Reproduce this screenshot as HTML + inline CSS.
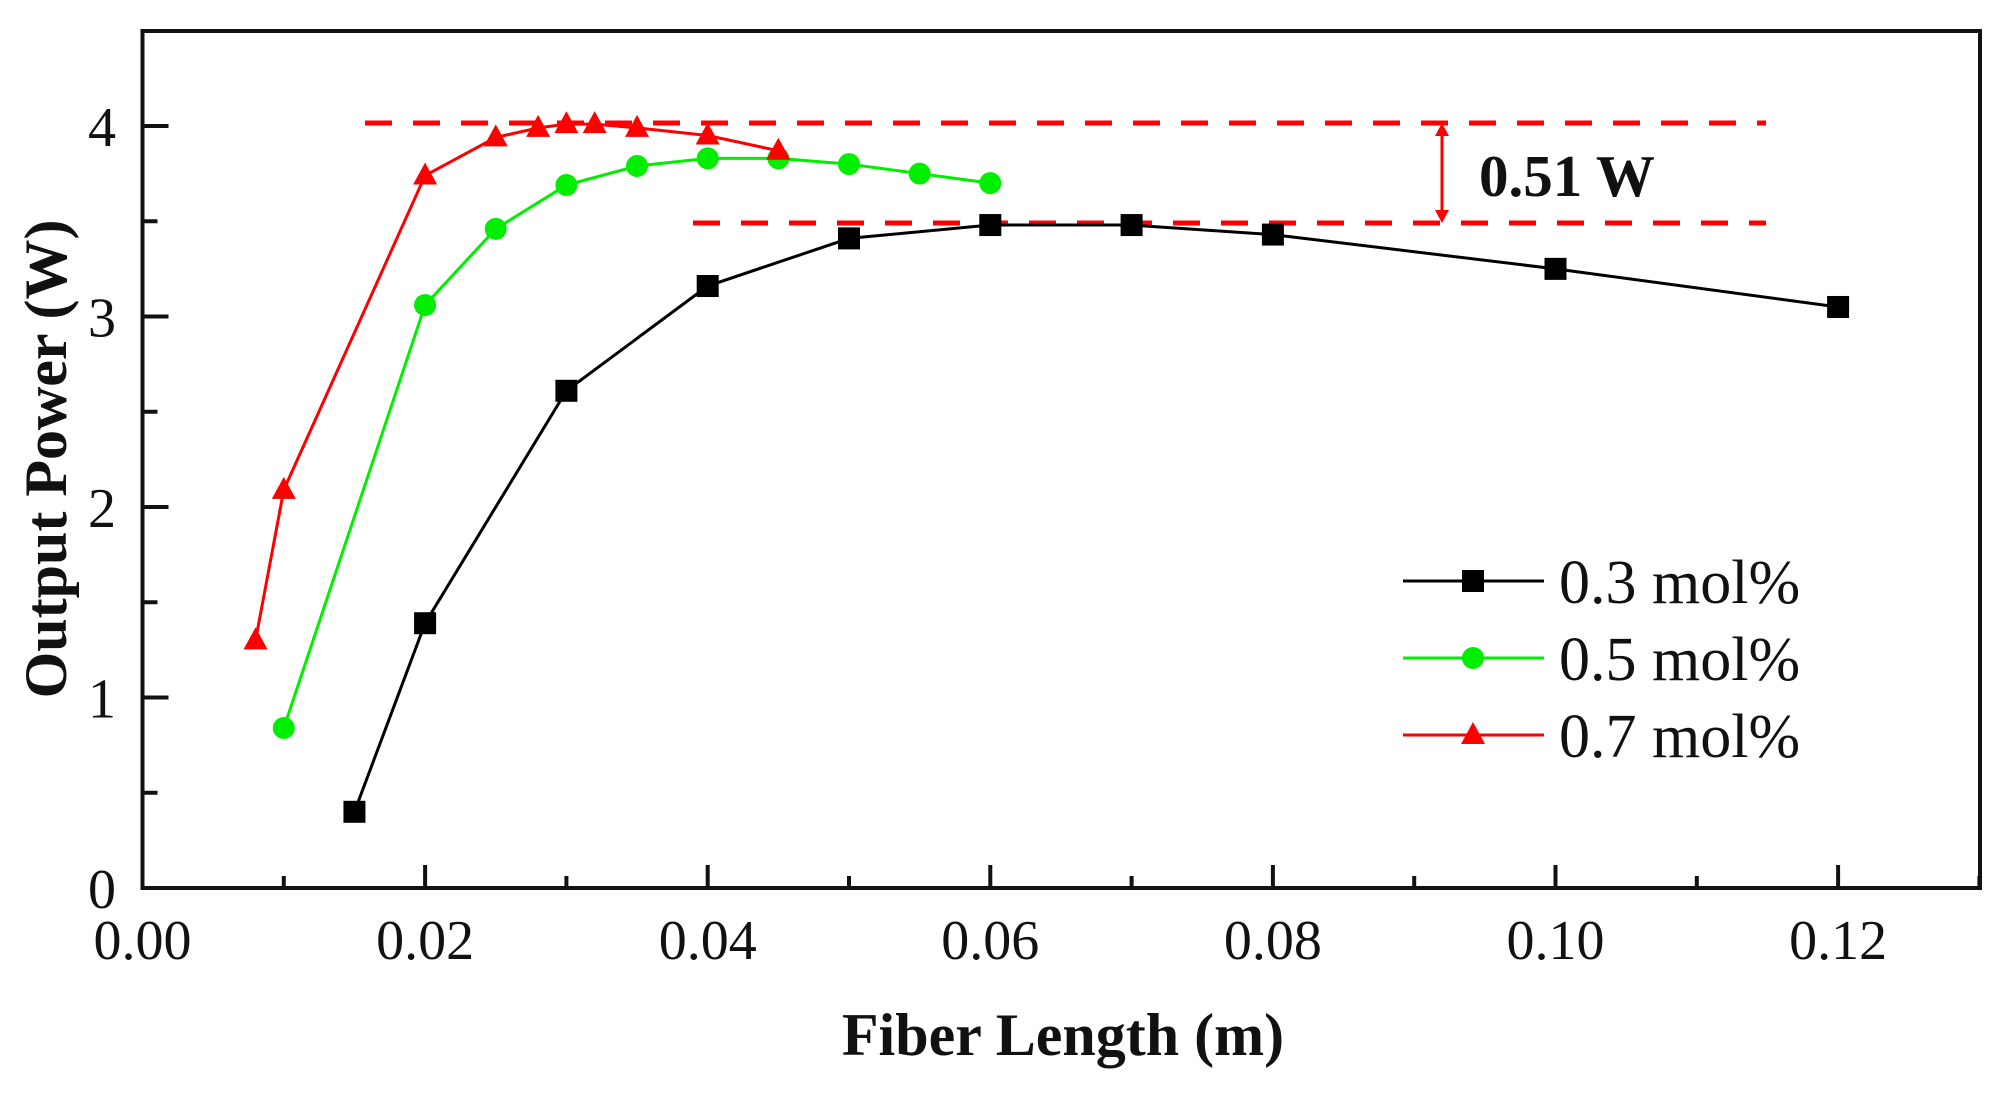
<!DOCTYPE html>
<html><head><meta charset="utf-8"><style>
html,body{margin:0;padding:0;background:#fff;}
svg{display:block;}
text{font-family:"Liberation Serif",serif;fill:#111;}
</style></head><body>
<svg id="s" width="2012" height="1100" viewBox="0 0 2012 1100" xmlns="http://www.w3.org/2000/svg">
<rect x="0" y="0" width="2012" height="1100" fill="#fff"/>
<g id="g"></g>
</svg>
<script>
const X0=142.5,XS=14130,Y0=888,YS=190.5;
const px=x=>X0+x*XS, py=y=>Y0-y*YS;
let h='';
h+=`<line x1="365" y1="123" x2="1766" y2="123" stroke="#f00" stroke-width="5" stroke-dasharray="27 21"/>`;
h+=`<line x1="693" y1="223" x2="1766" y2="223" stroke="#f00" stroke-width="5" stroke-dasharray="27 21"/>`;
h+=`<line x1="1442" y1="132" x2="1442" y2="214" stroke="#f00" stroke-width="3"/>`;
h+=`<polygon points="1442,123 1435,136 1449,136" fill="#f00"/><polygon points="1442,223 1435,210 1449,210" fill="#f00"/>`;
h+=`<text x="1479" y="196" font-size="59" font-weight="bold">0.51 W</text>`;
const B=[[.015,.4],[.02,1.39],[.03,2.61],[.04,3.16],[.05,3.41],[.06,3.48],[.07,3.48],[.08,3.43],[.10,3.25],[.12,3.05]];
const G=[[.01,.84],[.02,3.06],[.025,3.46],[.03,3.69],[.035,3.79],[.04,3.83],[.045,3.83],[.05,3.80],[.055,3.75],[.06,3.70]];
const R=[[.008,1.30],[.01,2.09],[.02,3.74],[.025,3.94],[.028,3.99],[.03,4.01],[.032,4.01],[.035,3.99],[.04,3.95],[.045,3.87]];
const sq=(x,y)=>`<rect x="${x-11}" y="${y-11}" width="22" height="22" fill="#000"/>`;
const ci=(x,y)=>`<circle cx="${x}" cy="${y}" r="11" fill="#0e0"/>`;
const tr=(x,y)=>`<polygon points="${x},${y-13} ${x-12},${y+9} ${x+12},${y+9}" fill="#f00"/>`;
function ser(d,c,m){h+=`<polyline fill="none" stroke="${c}" stroke-width="3" points="${d.map(p=>px(p[0])+','+py(p[1])).join(' ')}"/>`;d.forEach(p=>h+=m(px(p[0]),py(p[1])));}
ser(B,'#000',sq);ser(G,'#0e0',ci);ser(R,'#f00',tr);
h+=`<rect x="142.5" y="31" width="1837.5" height="857" fill="none" stroke="#111" stroke-width="4"/>`;
for(let i=1;i<=13;i++){const x=X0+i*141.3;const maj=i%2==0;h+=`<line x1="${x}" y1="888" x2="${x}" y2="${888-(maj?23:12)}" stroke="#111" stroke-width="4"/>`;}
['0.00','0.02','0.04','0.06','0.08','0.10','0.12'].forEach((t,i)=>h+=`<text x="${X0+i*282.6}" y="959" font-size="56" text-anchor="middle">${t}</text>`);
for(let i=1;i<=8;i++){const y=Y0-i*YS/2;const maj=i%2==0;h+=`<line x1="142.5" y1="${y}" x2="${142.5+(maj?26:15)}" y2="${y}" stroke="#111" stroke-width="4"/>`;}
for(let i=0;i<=4;i++)h+=`<text x="116" y="${Y0-i*YS+20}" font-size="56" text-anchor="end">${i}</text>`;
h+=`<text transform="translate(66,459) rotate(-90)" font-size="60" font-weight="bold" text-anchor="middle">Output Power (W)</text>`;
h+=`<text x="1063" y="1055" font-size="60" font-weight="bold" text-anchor="middle">Fiber Length (m)</text>`;
const L=[[581,'#000',sq,'0.3 mol%'],[658,'#0e0',ci,'0.5 mol%'],[735,'#f00',tr,'0.7 mol%']];
L.forEach(([y,c,m,t])=>{h+=`<line x1="1403" y1="${y}" x2="1544" y2="${y}" stroke="${c}" stroke-width="3"/>`;h+=m(1473,y);h+=`<text x="1559" y="${y+22}" font-size="62">${t}</text>`;});
document.getElementById('g').innerHTML=h;
</script>
</body></html>
